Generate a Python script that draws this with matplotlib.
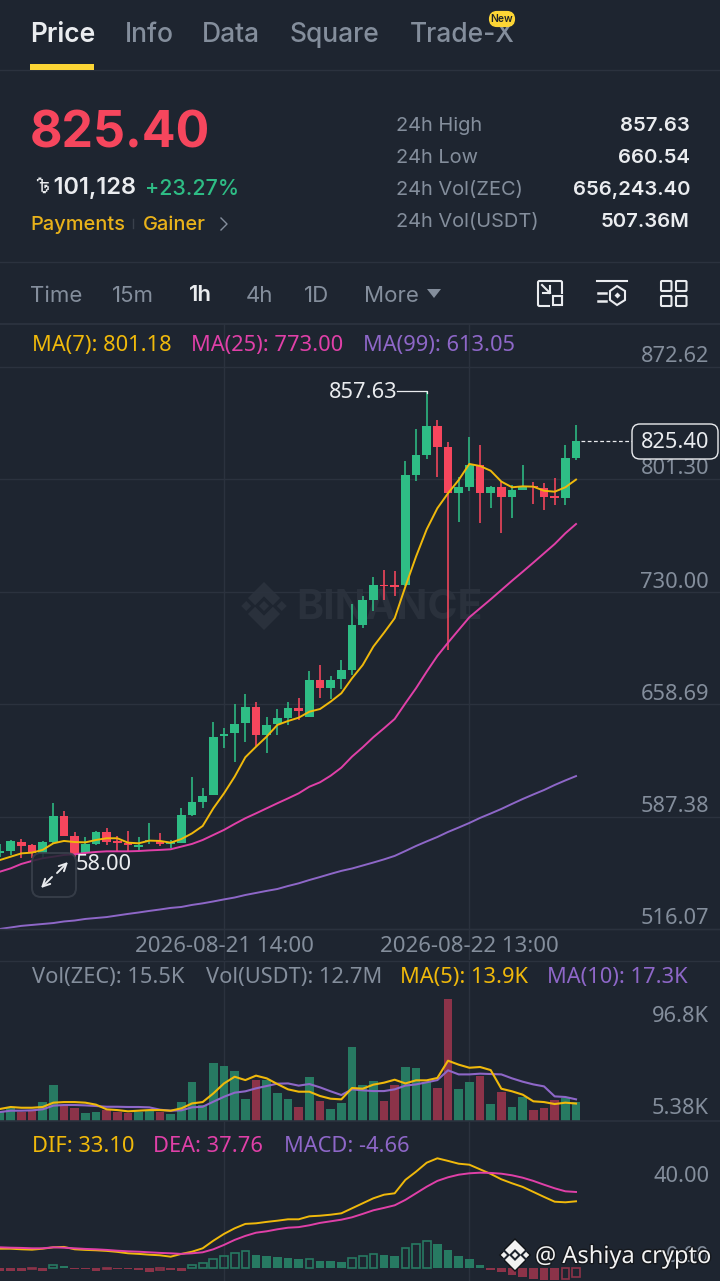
import numpy as np
import matplotlib
matplotlib.use('Agg')
import matplotlib.pyplot as plt
from matplotlib import font_manager
from matplotlib.ft2font import FT2Font
from matplotlib.patches import FancyBboxPatch, Polygon, Rectangle
import matplotlib.patheffects as pe

W, H = 720, 1281

# candles: open, high, low, close (hourly)
opens = [564.0, 565.7, 571.4, 569.3, 564.0, 571.2, 588.0, 575.2, 564.0, 570.0, 577.4, 571.4, 570.4, 568.3, 571.7, 571.9,
         570.0, 570.8, 588.4, 596.8, 600.8, 638.3, 640.4, 646.5, 657.1, 639.1, 645.9, 650.1, 656.0, 650.7, 674.2, 669.1,
         674.5, 680.4, 708.9, 724.8, 734.3, 734.3, 734.3, 804.1, 816.8, 835.4, 821.7, 792.9, 796.3, 810.5, 792.5, 796.3,
         790.3, 794.6, 797.3, 795.7, 790.3, 789.8, 814.9]
highs = [570.0, 572.5, 573.1, 570.0, 571.9, 595.8, 590.9, 577.4, 574.6, 578.4, 579.9, 575.2, 578.4, 574.2, 583.1, 576.7,
         572.5, 593.0, 612.3, 605.7, 647.2, 643.4, 658.8, 665.1, 660.3, 650.8, 655.4, 659.9, 662.4, 679.7, 683.4, 676.8,
         686.9, 722.1, 727.5, 739.2, 743.8, 743.2, 813.0, 833.1, 857.63, 839.0, 825.2, 803.0, 828.0, 823.1, 797.1, 799.9,
         797.8, 810.6, 799.5, 798.8, 802.0, 822.9, 835.8]
lows = [561.9, 563.0, 560.9, 560.9, 560.9, 570.5, 575.0, 561.9, 563.0, 569.5, 569.3, 565.7, 565.7, 565.7, 570.0, 568.7,
        567.2, 570.8, 588.0, 592.6, 600.8, 631.1, 622.2, 634.9, 632.1, 627.5, 639.1, 645.5, 648.6, 650.3, 662.8, 661.8,
        668.5, 677.2, 706.8, 718.0, 724.8, 727.5, 733.9, 800.3, 814.3, 803.0, 693.1, 774.1, 794.1, 773.8, 783.4, 767.5,
        777.0, 794.5, 785.7, 781.9, 785.1, 785.1, 813.6]
closes = [565.5, 571.9, 568.9, 564.0, 571.2, 588.0, 575.2, 563.0, 570.0, 577.4, 571.4, 570.8, 569.1, 569.3, 572.1, 570.0,
          571.2, 588.4, 596.4, 600.6, 638.1, 640.0, 646.1, 657.1, 639.1, 645.5, 649.7, 656.3, 654.4, 674.0, 669.1, 674.0,
          680.4, 708.9, 724.8, 734.3, 733.5, 733.3, 804.1, 816.8, 835.4, 821.7, 792.9, 796.7, 810.5, 792.5, 796.7, 790.3,
          794.6, 796.7, 796.3, 790.3, 789.5, 814.9, 825.4]

ma7 = [559.8, 561.9, 564.0, 564.5, 566.2, 570.4, 571.9, 571.2, 571.0, 572.5, 573.6, 573.6, 570.8, 570.4, 572.1, 571.9,
       570.8, 573.1, 576.7, 581.4, 592.6, 602.1, 612.7, 625.0, 631.7, 638.1, 645.5, 648.0, 650.1, 653.9, 655.6, 660.3,
       665.6, 675.1, 683.5, 695.2, 704.0, 713.2, 733.2, 752.3, 769.6, 783.0, 792.5, 800.9, 811.1, 809.8, 806.8, 799.9,
       796.3, 796.9, 796.7, 794.1, 793.5, 796.3, 801.18]
ma25 = [552.4, 554.5, 557.3, 559.2, 560.9, 561.9, 563.0, 563.4, 564.3, 564.9, 565.3, 565.3, 565.3, 565.5, 565.9, 566.2,
        566.6, 568.3, 570.0, 572.5, 575.7, 578.9, 582.7, 586.3, 589.4, 592.6, 595.8, 598.9, 602.1, 606.3, 609.1, 613.3,
        618.4, 625.4, 631.3, 637.7, 643.4, 649.3, 659.2, 668.8, 679.3, 689.3, 697.7, 705.8, 713.8, 719.5, 725.2, 731.1,
        737.0, 742.7, 748.5, 754.4, 760.3, 767.1, 773.0]
ma99 = [516.05, 517.0, 518.0, 518.6, 519.2, 519.8, 520.8, 521.4, 522.4, 523.0, 523.6, 524.6, 525.6, 526.5, 527.5, 528.4,
        529.4, 530.0, 531.3, 532.3, 533.5, 534.8, 536.0, 537.6, 538.9, 540.2, 541.4, 543.3, 545.0, 547.1, 549.0, 551.0,
        552.9, 554.4, 556.3, 558.2, 560.2, 562.4, 565.5, 568.7, 571.6, 574.4, 577.6, 580.4, 583.3, 586.5, 589.3, 592.2,
        595.4, 598.5, 601.4, 604.2, 607.4, 610.3, 613.05]

# volume in K
volume = [7.3, 10.0, 7.3, 8.1, 14.9, 28.9, 12.2, 10.5, 6.5, 6.8, 8.6, 7.3, 5.9, 7.3, 8.6, 7.3, 5.4, 14.9, 31.1, 12.7,
          46.4, 44.3, 40.0, 17.6, 32.9, 32.9, 22.1, 17.3, 10.8, 35.1, 15.9, 9.2, 14.0, 59.4, 29.2, 31.9, 15.7, 28.9, 43.2,
          42.7, 31.6, 26.5, 98.6, 25.9, 31.1, 36.2, 13.8, 23.5, 11.3, 19.4, 8.6, 10.5, 16.5, 18.6, 15.5]
vol_ma5 = [9.5, 11.1, 10.5, 10.5, 11.1, 14.6, 15.1, 15.1, 14.6, 13.0, 9.2, 8.6, 7.6, 8.1, 8.6, 8.6, 8.1, 10.0, 14.0, 15.1,
           22.1, 30.2, 35.6, 32.9, 36.5, 34.3, 29.7, 25.4, 23.5, 23.5, 20.0, 17.8, 17.3, 26.5, 25.9, 29.2, 30.8, 33.2, 30.2,
           32.7, 32.7, 34.6, 48.6, 45.4, 42.9, 43.5, 41.0, 25.9, 23.8, 21.1, 15.7, 15.1, 13.5, 14.6, 13.9]
vol_ma10 = [7.0, 8.1, 8.1, 8.4, 9.2, 12.2, 12.7, 12.7, 12.4, 11.9, 11.3, 11.3, 11.1, 11.1, 10.8, 8.9, 8.1, 8.4, 10.8, 11.3,
            15.4, 19.4, 22.7, 23.8, 26.2, 28.1, 30.0, 30.2, 28.4, 29.7, 27.0, 23.8, 20.8, 25.4, 24.6, 24.0, 24.0, 25.4, 28.4,
            29.4, 31.1, 32.9, 40.8, 37.5, 37.5, 38.1, 37.8, 37.5, 34.3, 31.6, 29.4, 27.8, 19.7, 19.2, 17.3]

# macd panel
dif = [9.4, 9.4, 9.1, 8.9, 9.4, 10.1, 10.3, 9.1, 8.8, 8.6, 8.3, 7.8, 7.1, 6.8, 6.4, 6.1, 5.4, 6.8, 7.9, 9.6, 13.4, 16.8,
       19.6, 21.8, 22.1, 22.8, 23.4, 24.1, 24.1, 25.6, 25.9, 26.4, 27.1, 29.6, 32.1, 34.6, 36.4, 37.1, 43.8, 47.9, 52.4,
       54.6, 53.3, 51.9, 51.4, 49.1, 46.8, 44.1, 42.1, 40.3, 37.8, 35.3, 32.9, 32.6, 33.1]
dea = [10.1, 9.9, 9.8, 9.6, 9.6, 10.1, 9.9, 9.6, 9.3, 9.1, 8.8, 8.4, 8.1, 7.9, 7.6, 7.3, 7.1, 6.8, 7.1, 7.6, 9.1, 11.3,
       13.8, 15.8, 17.4, 18.1, 19.1, 19.9, 20.2, 21.1, 22.3, 23.1, 23.9, 25.1, 26.8, 28.6, 29.8, 31.1, 33.8, 37.1, 40.4,
       43.3, 45.1, 46.4, 47.1, 47.4, 47.3, 46.9, 46.1, 44.9, 43.3, 41.4, 39.6, 38.1, 37.76]
macd = [-1.5, -1.5, -1.5, -0.8, -1.5, 1.5, 0.8, -0.7, -0.8, -1.6, -0.8, -0.8, -0.8, -1.0, -2.0, -1.0, -1.0, -1.6, 1.5, 2.2,
        4.3, 6.0, 7.2, 8.2, 6.5, 5.8, 5.2, 4.8, 4.2, 4.3, 3.5, 3.2, 3.0, 4.7, 5.8, 6.8, 6.5, 6.0, 9.7, 11.7, 13.3, 12.0, 8.7,
        6.0, 4.5, 1.5, -1.0, -2.2, -3.5, -4.7, -5.7, -6.2, -6.2, -5.6, -4.66]

price_ticks = [872.62, 801.30, 730.00, 658.69, 587.38, 516.07]
price_tick_labels = ['872.62', '801.30', '730.00', '658.69', '587.38', '516.07']
date_idx = [21, 44]
date_labels = ['2026-08-21 14:00', '2026-08-22 13:00']

BG = '#1e2530'
GRID = '#2b323e'
GREEN = '#2ebd85'
RED = '#f6465d'
VGREEN = '#277a62'
VRED = '#8c3349'
GRAY = '#848e9c'
WHITE = '#eaecef'
YEL = '#f0b90b'
PINK = '#e040a8'
PURP = '#8e67c8'
UI = 'Inter'
CH = 'Noto Sans'
CHS = 15.7

STEP = 10.667
x = np.arange(len(closes))


def family_with(code):
    # first installed font file that really holds the glyph
    for f in font_manager.fontManager.ttflist:
        try:
            if code in FT2Font(f.fname).get_charmap():
                return f.name
        except Exception:
            continue
    return None


taka_family = family_with(0x09f3)

fig = plt.figure(figsize=(W/100, H/100), dpi=100, facecolor=BG)


def panel(top, bottom, ylim, z=1):
    a = fig.add_axes([0, 1-bottom/H, 1, (bottom-top)/H], zorder=z)
    a.set_xlim(0, W/STEP)
    a.set_ylim(*ylim)
    a.axis('off')
    a.patch.set_alpha(0)
    return a


# px -> value scales taken from the axis labels
def price_at(y):
    return 872.62-(y-367)*(71.32/112.4)


under = fig.add_axes([0, 0, 1, 1], zorder=0)
under.set_xlim(0, W)
under.set_ylim(H, 0)
under.axis('off')

ax = panel(324, 960, (price_at(960), price_at(324)))
axv = panel(962, 1120.7, (0, 158.7*0.81))
axm = panel(1122, 1281, (-6.75, 72.75))

top = fig.add_axes([0, 0, 1, 1], zorder=5)
top.set_xlim(0, W)
top.set_ylim(H, 0)
top.axis('off')
top.patch.set_alpha(0)


def diamond(a, cx, cy, r, color, z=2):
    a.add_patch(Polygon([(cx-r, cy), (cx, cy-r), (cx+r, cy), (cx, cy+r)], closed=True, fc=color, ec='none', zorder=z))


def chevron(a, cx, cy, r, t, sign, color, z=2):
    # roof shaped part of the logo, sign=-1 points up
    a.add_patch(Polygon([(cx-r, cy), (cx, cy+sign*r), (cx+r, cy), (cx+r-t, cy-sign*t), (cx, cy+sign*(r-2*t)), (cx-r+t, cy-sign*t)],
                        closed=True, fc=color, ec='none', zorder=z))


def logo(a, cx, cy, s, color, z=2):
    diamond(a, cx, cy, 0.21*s, color, z)
    diamond(a, cx-0.74*s, cy, 0.21*s, color, z)
    diamond(a, cx+0.74*s, cy, 0.21*s, color, z)
    chevron(a, cx, cy-0.33*s, 0.67*s, 0.3*s, -1, color, z)
    chevron(a, cx, cy+0.33*s, 0.67*s, 0.3*s, 1, color, z)


# watermark behind candles
logo(under, 264, 606, 24, '#2a313c')
under.text(296, 608, 'BINANCE', fontfamily=UI, fontweight='bold', fontsize=29.4, color='#2a313c', va='center')

# grid
for t in price_ticks:
    ax.axhline(t, color=GRID, lw=1, zorder=0)
for a in (ax, axv, axm):
    for i in date_idx:
        a.axvline(i, color=GRID, lw=1, zorder=0)

# candles
for i in x:
    col = GREEN if closes[i] >= opens[i] else RED
    ax.vlines(i, lows[i], highs[i], color=col, lw=1.15, zorder=2)
    low_b, high_b = sorted((opens[i], closes[i]))
    ax.bar(i, max(high_b-low_b, 1.0), bottom=low_b, width=0.8, color=col, lw=0, zorder=3)
ax.plot(x, ma99, color=PURP, lw=1.4, zorder=4)
ax.plot(x, ma25, color=PINK, lw=1.4, zorder=4)
ax.plot(x, ma7, color=YEL, lw=1.4, zorder=4)

# volume
vcol = [VGREEN if c >= o else VRED for o, c in zip(opens, closes)]
axv.bar(x, volume, width=0.8, color=vcol, lw=0, zorder=2)
axv.plot(x, vol_ma10, color=PURP, lw=1.5, zorder=3)
axv.plot(x, vol_ma5, color=YEL, lw=1.5, zorder=4)

# macd, rising bars are hollow
for i in x:
    col = VGREEN if macd[i] >= 0 else VRED
    rising = i > 0 and macd[i] > macd[i-1]
    if rising:
        axm.bar(i, macd[i], width=0.72, facecolor='none', edgecolor=col, lw=1.2, zorder=2)
    else:
        axm.bar(i, macd[i], width=0.8, color=col, lw=0, zorder=2)
axm.plot(x, dea, color=PINK, lw=1.4, zorder=4)
axm.plot(x, dif, color=YEL, lw=1.4, zorder=3)


def txt(px, py, s, color=GRAY, size=CHS, family=CH, weight='normal', ha='left', z=6):
    # +3: matplotlib centres on the box, the text sat a bit high
    return top.text(px, py+3, s, color=color, fontsize=size, fontfamily=family, fontweight=weight, ha=ha, va='center', zorder=z)


# section lines
for yy, lw in [(70, 1), (262, 1), (323.5, 1.4), (929, 1), (961, 1), (1120.5, 1.2)]:
    top.plot([0, W], [yy, yy], color=GRID, lw=lw, zorder=1)

# tabs
tabs = ['Info', 'Data', 'Square', 'Trade-X']
tab_x = [125, 202, 290, 410]
txt(30, 32, 'Price', WHITE, 19, UI, 'semibold')
for s, tx in zip(tabs, tab_x):
    txt(tx, 32, s, GRAY, 19, UI, 'medium')
top.add_patch(Rectangle((30, 64), 64, 6, fc='#fcd535', ec='none', zorder=3))
top.add_patch(FancyBboxPatch((491, 13), 22, 12, boxstyle='round,pad=0,rounding_size=6', fc='#fcd535', ec='#fcd535', lw=3, zorder=6))
txt(502, 16.5, 'New', '#1e2329', 7.4, UI, 'semibold', 'center', z=7)

# price block
txt(30, 131, '825.40', RED, 36, UI, 'bold')
if taka_family:
    txt(30, 185, '\u09f3101,128', WHITE, 17, [UI, taka_family], 'semibold')
else:
    # no installed family has the taka sign, so it is drawn
    top.plot([31, 44], [175, 175], color=WHITE, lw=1.7)
    top.plot([34, 34], [173, 195], color=WHITE, lw=2.0)
    top.plot([34, 39, 43, 44, 43, 39, 34], [182, 180, 182, 187, 192, 195, 193], color=WHITE, lw=1.9)
    txt(48, 185, '101,128', WHITE, 17, UI, 'semibold')
txt(145, 186, '+23.27%', GREEN, 15.4, UI, 'medium')
txt(30, 222, 'Payments', '#e9b21a', 14.4, UI, 'medium')
top.plot([133, 133], [219, 228], color='#3a414c', lw=1)
txt(143, 222, 'Gainer', '#e9b21a', 14.4, UI, 'medium')
top.plot([221, 227, 221], [218, 224, 230], color=GRAY, lw=1)

stat_names = ['24h High', '24h Low', '24h Vol(ZEC)', '24h Vol(USDT)']
stat_vals = ['857.63', '660.54', '656,243.40', '507.36M']
stat_y = [123, 155, 187, 219]
for n, v, sy in zip(stat_names, stat_vals, stat_y):
    txt(396, sy, n, GRAY, 14.4, UI)
    txt(690, sy, v, WHITE, 14.6, UI, 'semibold', 'right')

# interval row
rows = ['Time', '15m', '4h', '1D', 'More']
row_x = [30, 112, 246, 304, 364]
for s, rx in zip(rows, row_x):
    txt(rx, 293, s, GRAY, 16, UI)
txt(189, 292, '1h', WHITE, 16, UI, 'semibold')
top.add_patch(Polygon([(427, 289), (441, 289), (434, 298)], closed=True, fc=GRAY, ec='none'))

# toolbar icons
top.add_patch(FancyBboxPatch((538, 281), 24, 25, boxstyle='round,pad=0,rounding_size=1.5', fc='none', ec=WHITE, lw=1.5))
top.add_patch(Rectangle((550, 294), 13, 13, fc=BG, ec='none', zorder=3))
top.add_patch(Rectangle((553, 296), 9, 9, fc='none', ec=WHITE, lw=1.5, zorder=4))
top.plot([542, 550], [285, 293], color=WHITE, lw=1.5)
top.plot([543, 550, 550], [293, 293, 286], color=WHITE, lw=1.5)
top.plot([597, 627], [281, 281], color=WHITE, lw=1.5)
top.plot([598, 606], [293, 293], color=WHITE, lw=1.8)
top.plot([598, 606], [301, 301], color=WHITE, lw=1.8)
top.add_patch(Polygon([(617, 286), (625, 291), (625, 300), (617, 305), (610, 300), (610, 291)], closed=True, fc='none', ec=WHITE, lw=1.5))
diamond(top, 617.5, 295.5, 3, WHITE)
for ix, iy in [(661, 281), (676, 281), (661, 296), (676, 296)]:
    top.add_patch(FancyBboxPatch((ix, iy), 10.5, 10, boxstyle='round,pad=0,rounding_size=1', fc='none', ec=WHITE, lw=1.5))

# legends
txt(32, 343, 'MA(7): 801.18', YEL)
txt(191, 343, 'MA(25): 773.00', PINK)
txt(363, 343, 'MA(99): 613.05', PURP)
txt(32, 974, 'Vol(ZEC): 15.5K')
txt(206, 974, 'Vol(USDT): 12.7M')
txt(400, 974, 'MA(5): 13.9K', YEL)
txt(547, 974, 'MA(10): 17.3K', PURP)
txt(32, 1144, 'DIF: 33.10', YEL)
txt(153, 1144, 'DEA: 37.76', PINK)
txt(284, 1144, 'MACD: -4.66', PURP)

# axis labels sit above their gridline
tick_y = [354, 466, 579, 691, 804, 915]
for s, ty in zip(price_tick_labels, tick_y):
    txt(709, ty, s, ha='right')
txt(709, 1013, '96.8K', ha='right')
txt(709, 1106, '5.38K', ha='right')
txt(709, 1174, '40.00', ha='right')
txt(709, 1254, '0.00', ha='right')
for s, i in zip(date_labels, date_idx):
    txt(i*STEP+0.5, 944, s, GRAY, 16, ha='center')

# high marker
txt(397, 390, '857.63', WHITE, ha='right')
top.plot([397, 427, 427], [390.5, 390.5, 393], color=WHITE, lw=0.9)

# current price tag
top.plot([581, 632], [441, 441], color=WHITE, lw=0.9, ls=(0, (3, 2)))
top.add_patch(FancyBboxPatch((632, 424), 86, 35, boxstyle='round,pad=0,rounding_size=8', fc=BG, ec=WHITE, lw=1, zorder=6))
txt(675, 440, '825.40', WHITE, ha='center', z=7)

# expand button with the low label
txt(76, 862, '58.00', WHITE)
top.add_patch(FancyBboxPatch((32, 853), 44, 44, boxstyle='round,pad=0,rounding_size=9', fc=BG, ec='#3a414c', lw=1.4, alpha=0.85, zorder=4))
arrow = dict(arrowstyle='->', color=WHITE, lw=1.4, mutation_scale=13, shrinkA=0, shrinkB=0)
top.annotate('', xy=(68, 862), xytext=(57, 873), arrowprops=arrow, zorder=7)
top.annotate('', xy=(41, 888), xytext=(52, 877), arrowprops=arrow, zorder=7)

# screenshot watermark
logo(top, 515, 1255, 17, '#111418', 8)
logo(top, 515, 1255, 15, '#f2f2f2', 9)
t = txt(535, 1254, '@ Ashiya crypto', '#f2f2f2', 17, z=9)
t.set_path_effects([pe.withStroke(linewidth=2, foreground='#15181d')])

fig.savefig('out.png', dpi=100, facecolor=BG)
